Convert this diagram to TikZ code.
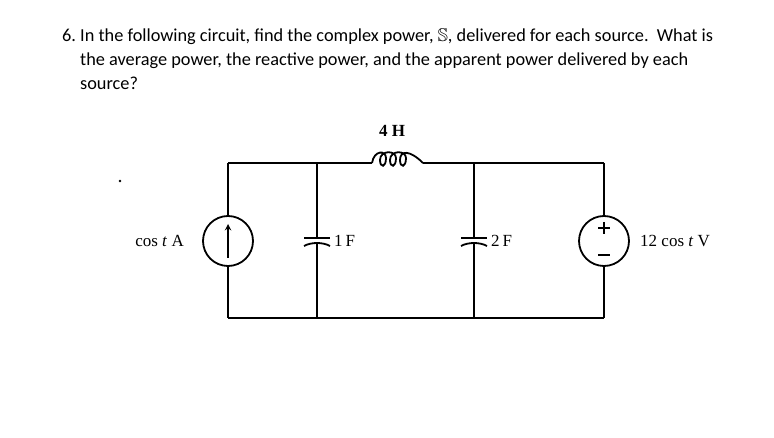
\documentclass[tikz,border=0pt]{standalone}
\usepackage{fontspec}
\setmainfont{Carlito}
\newfontfamily\circfont{Liberation Serif}
\usepackage{amssymb}
\begin{document}
\begin{tikzpicture}[x=1pt,y=-1pt,
  wire/.style={line width=1.8pt},
  lbl/.style={font=\circfont\fontsize{17}{19}\selectfont,inner sep=0pt},
  src/.style={circle,draw,line width=1.8pt,minimum size=50pt,inner sep=0pt},
  txt/.style={font=\fontsize{18.3}{21}\selectfont,anchor=base west,inner sep=0pt}]
\useasboundingbox (0,0) rectangle (774,438);
\node[txt] (t0) at (62,42) {6.};
\node[txt] (t1) at (80,42) {In the following circuit, find the complex power, $\mathbb{S}$, delivered for each source.\ \ What is};
\node[txt] (t2) at (80,66) {the average power, the reactive power, and the apparent power delivered by each};
\node[txt] (t3) at (80,90) {source?};
\fill (120,181) circle (1.3pt);
% nodes
\coordinate (TL) at (228,163); \coordinate (BL) at (228,318);
\coordinate (T1) at (317,163); \coordinate (B1) at (317,318);
\coordinate (T2) at (474,163); \coordinate (B2) at (474,318);
\coordinate (TR) at (604,163); \coordinate (BR) at (604,318);
\coordinate (L1) at (372,163); \coordinate (L2) at (423,163);
\node[src] (IS) at (228,241) {};
\node[src] (VS) at (604,241) {};
\draw[wire] (TL) -- (IS.north); \draw[wire] (IS.south) -- (BL);
\draw[wire] (TR) -- (VS.north); \draw[wire] (VS.south) -- (BR);
\draw[wire,->,>=stealth] (228,258) -- (228,224);
\draw[wire] (604,222) -- (604,234); \draw[wire] (598,228) -- (610,228);
\draw[wire] (598,255) -- (610,255);
\draw[wire] (TL) -- (L1); \draw[wire] (L2) -- (TR);
\draw[wire] (BL) -- (BR);
% inductor
\draw[wire] (L1) .. controls (374,150) and (386,150) .. (386,158)
  .. controls (386,168) and (380,168) .. (380,160)
  .. controls (380,150) and (396,150) .. (396,158)
  .. controls (396,168) and (390,168) .. (390,160)
  .. controls (390,150) and (406,150) .. (406,158)
  .. controls (406,168) and (400,168) .. (400,160)
  .. controls (400,150) and (410,150) .. (L2);
\node[lbl] (lh) at (392,131) {\textbf{4 H}};
% caps
\draw[wire] (T1) -- (317,238); \draw[wire] (317,244) -- (B1);
\draw[wire] (304,238) -- (330,238);
\draw[wire] (304,246) .. controls (311,242) and (323,242) .. (330,246);
\draw[wire] (T2) -- (474,238); \draw[wire] (474,244) -- (B2);
\draw[wire] (461,238) -- (487,238);
\draw[wire] (461,246) .. controls (468,242) and (480,242) .. (487,246);
\node[lbl,anchor=west] (c1) at (334,241) {1\,F};
\node[lbl,anchor=west] (c2) at (491,241) {2\,F};
\node[lbl,anchor=east] (ia) at (184,241) {cos \textit{t} A};
\node[lbl,anchor=west] (va) at (640,241) {12 cos \textit{t} V};
\end{tikzpicture}
\end{document}
